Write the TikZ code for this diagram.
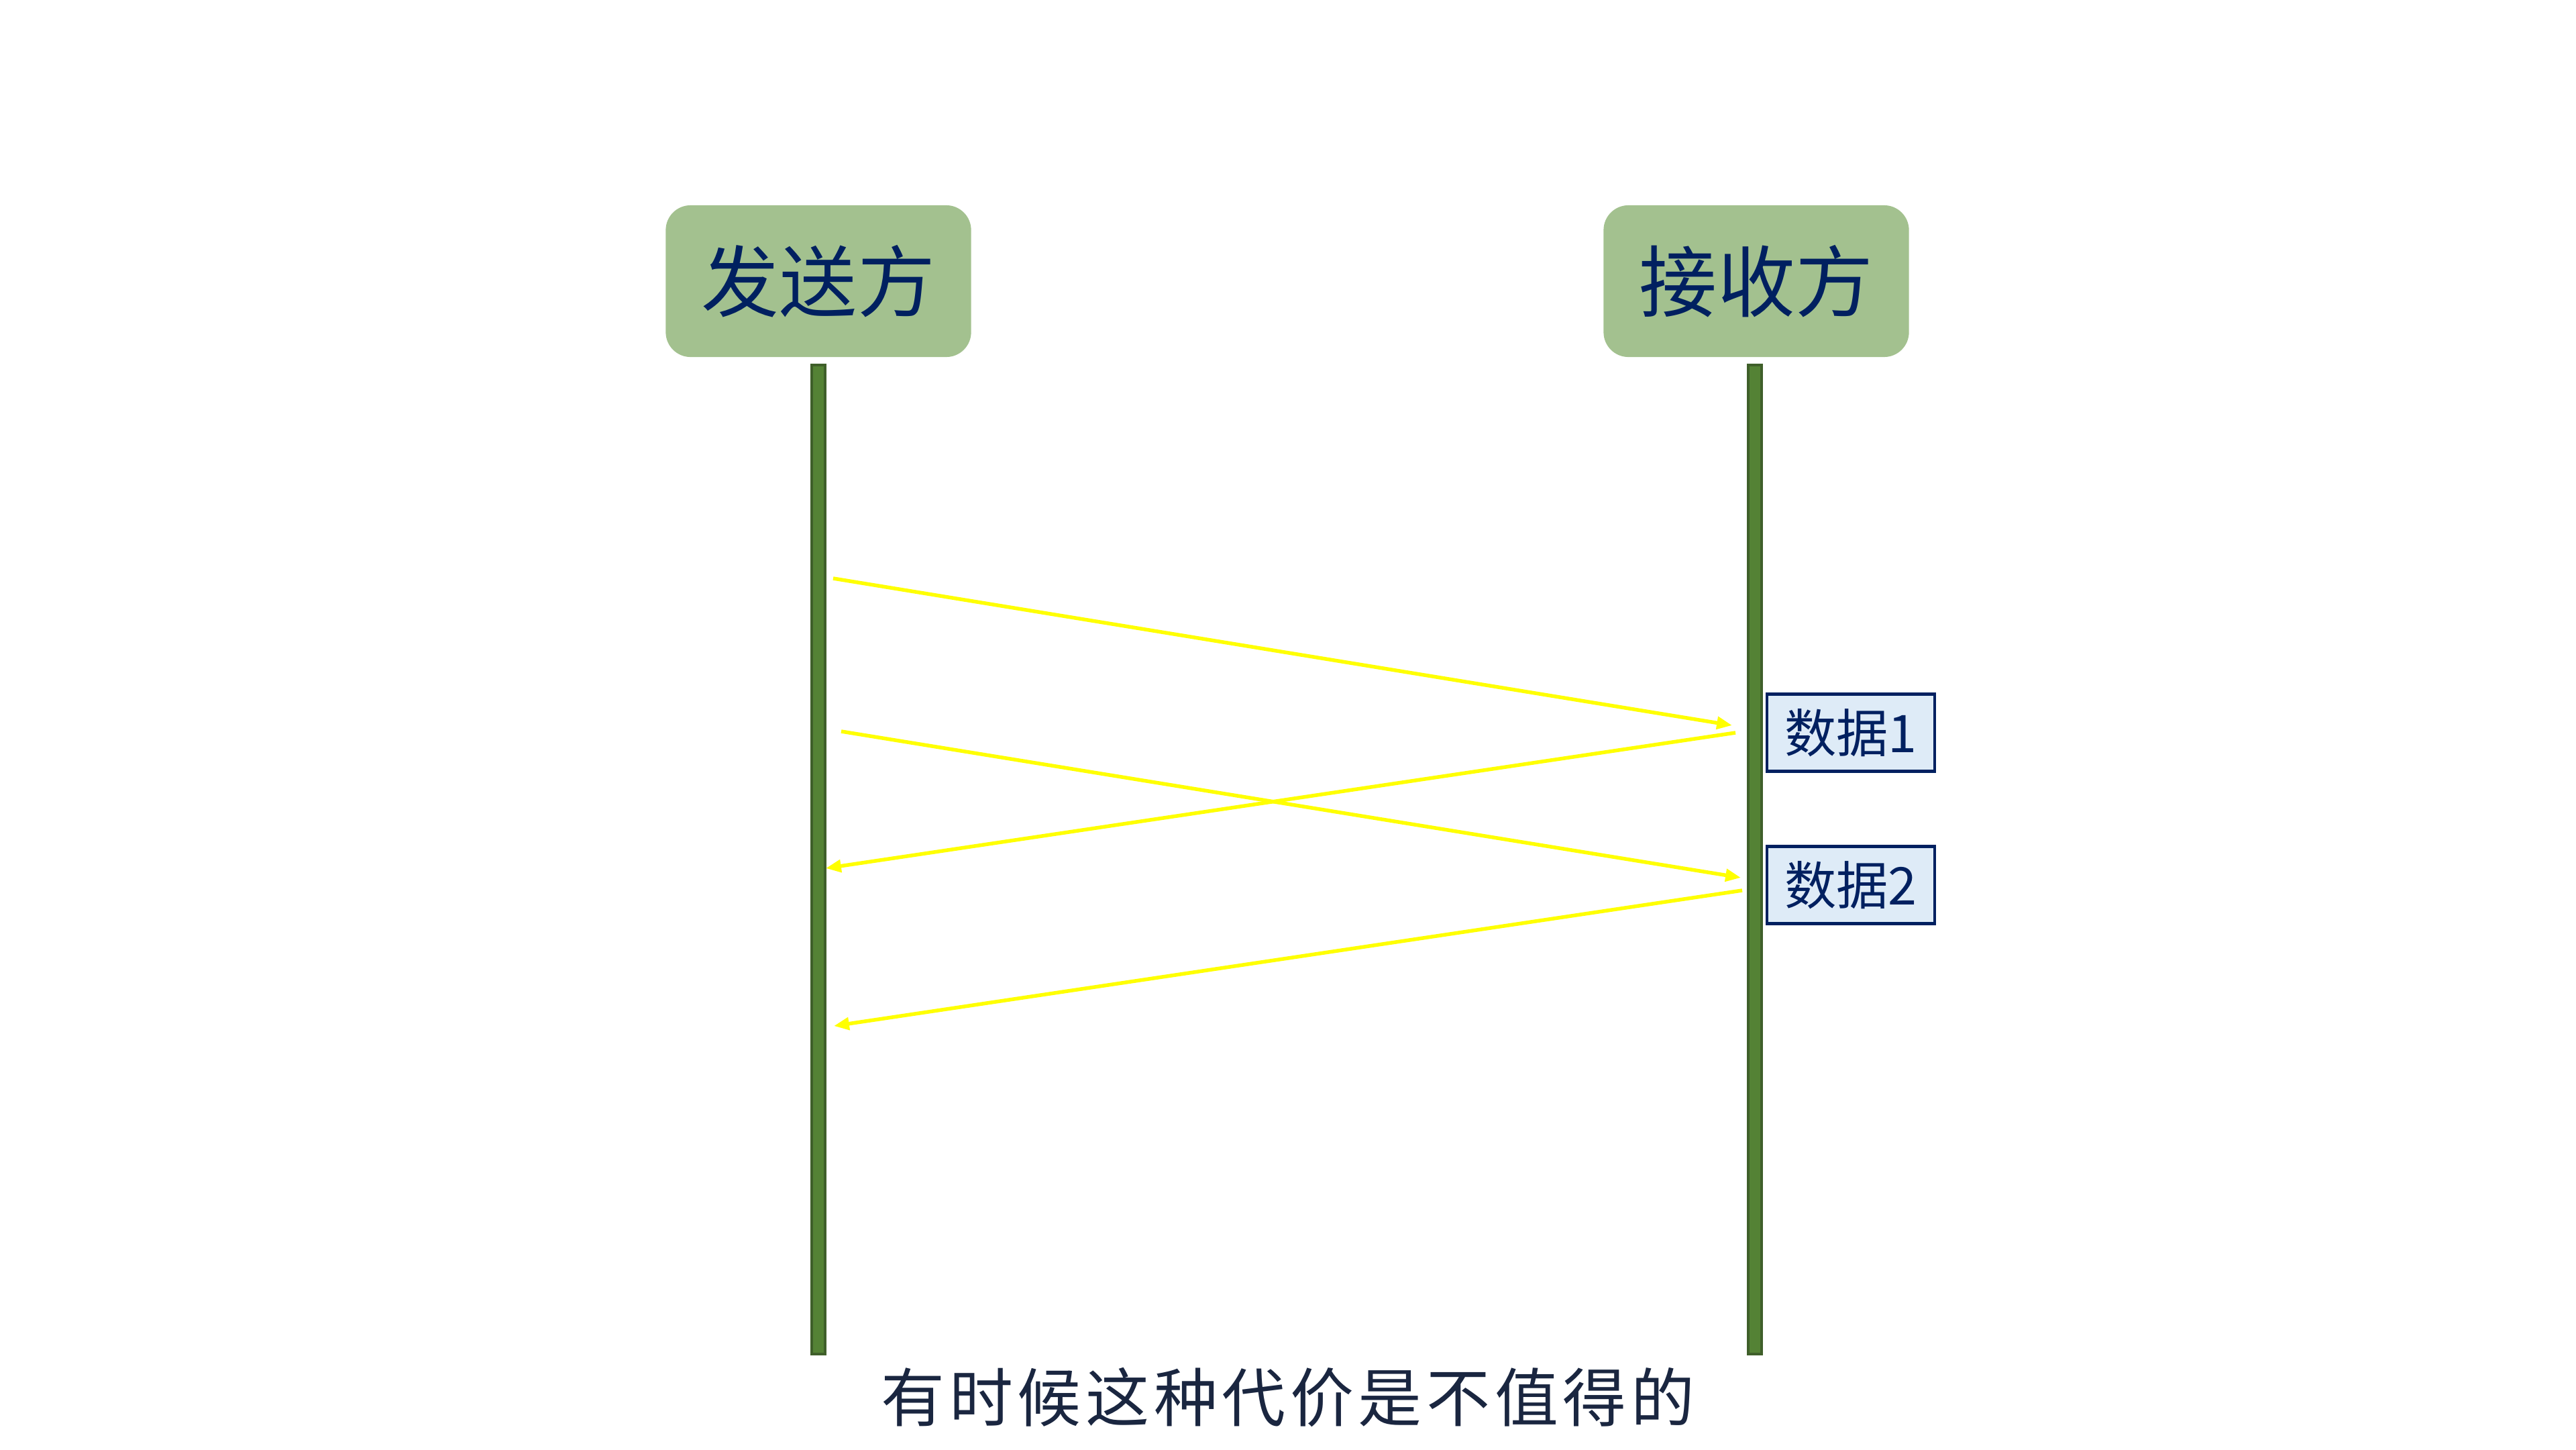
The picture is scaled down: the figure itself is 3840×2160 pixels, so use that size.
\documentclass[tikz,border=0pt]{standalone}
\usepackage{fontspec}
\newfontfamily\cjk{Noto Sans CJK SC}
\usetikzlibrary{arrows.meta, positioning}
\definecolor{headfill}{HTML}{A3C18F}
\definecolor{navy}{HTML}{002060}
\definecolor{lifegreen}{HTML}{548235}
\definecolor{lifeedge}{HTML}{3F5F2A}
\definecolor{datafill}{HTML}{DEEBF7}
\definecolor{notecolor}{HTML}{1A2640}
\definecolor{msgyellow}{HTML}{FFFF00}

\begin{document}
\begin{tikzpicture}[x=0.01cm, y=-0.01cm,
    party/.style={fill=headfill, rounded corners=0.37cm, minimum width=4.55cm, minimum height=2.26cm,
        text=navy, font=\cjk\fontsize{33}{38}\selectfont},
    databox/.style={fill=datafill, draw=navy, line width=0.045cm, minimum width=2.5cm, minimum height=1.15cm,
        text=navy, font=\cjk\fontsize{22}{26}\selectfont},
    lifeline/.style={fill=lifegreen, draw=lifeedge, line width=0.035cm},
    msg/.style={msgyellow, line width=0.055cm, -{Triangle[length=6.5pt, width=5.2pt]}}]
    \useasboundingbox (0,0) rectangle (3840,2160);

    % the two parties
    \node[party] (sender) at (1220,419) {发送方};
    \node[party] (receiver) at (2618,419) {接收方};

    % lifelines
    \draw[lifeline] (1210,544) rectangle (1230,2018);
    \draw[lifeline] (2606,544) rectangle (2626,2018);

    % data received
    \node[databox] (data1) at (2759,1092) {数据1};
    \node[databox] (data2) at (2759,1319) {数据2};

    % end points of the messages
    \coordinate (send1) at (1242,862);
    \coordinate (recv1) at (2582,1081);
    \coordinate (ack1) at (2587,1092);
    \coordinate (back1) at (1231,1294);
    \coordinate (send2) at (1254,1090);
    \coordinate (recv2) at (2595,1308);
    \coordinate (ack2) at (2597,1327);
    \coordinate (back2) at (1243,1529);

    \draw[msg] (send1) -- (recv1);
    \draw[msg] (ack1) -- (back1);
    \draw[msg] (send2) -- (recv2);
    \draw[msg] (ack2) -- (back2);

    \node[text=notecolor, font=\cjk\fontsize{27}{32}\selectfont\addfontfeature{LetterSpace=7}] (note) at (1920,2082) {有时候这种代价是不值得的};
\end{tikzpicture}
\end{document}
